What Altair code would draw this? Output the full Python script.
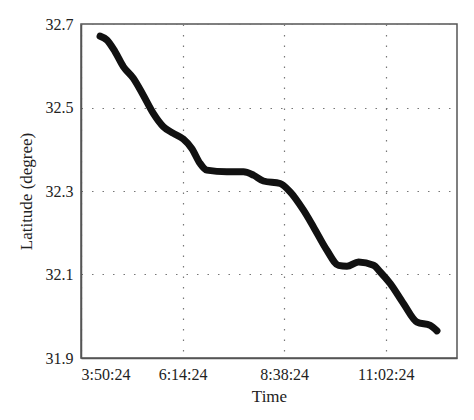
import altair as alt
import pandas as pd

# minutes after 3:50:24
minutes = [27, 36.5, 48.2, 60, 74.2, 88.1, 102.5, 116.8, 131, 145.2, 157, 168.8, 178.3,
           206.7, 230.3, 244.4, 258.6, 282.3, 296.5, 315.4, 329.6, 348.6, 365, 377,
           393.4, 414.7, 424.2, 438.4, 457.3, 476.3, 495.1, 504.6]
latitude = [32.671, 32.662, 32.634, 32.598, 32.570, 32.530, 32.486, 32.454, 32.438, 32.424,
            32.402, 32.366, 32.350, 32.346, 32.346, 32.338, 32.324, 32.318, 32.298, 32.254,
            32.214, 32.158, 32.122, 32.120, 32.130, 32.122, 32.106, 32.078, 32.030, 31.986,
            31.978, 31.965]
x_ticks = [0, 144, 288, 432]
x_labels = ["3:50:24", "6:14:24", "8:38:24", "11:02:24"]
y_ticks = [31.9, 32.1, 32.3, 32.5, 32.7]

df = pd.DataFrame({"t": minutes, "lat": latitude})

label_expr = "{" + ",".join(f"'{v}':'{l}'" for v, l in zip(x_ticks, x_labels)) + "}[datum.value]"

font = "Liberation Serif"

chart = alt.Chart(df).mark_line(
    color="#111111", strokeWidth=7, strokeCap="round", strokeJoin="round", interpolate="monotone"
).encode(
    x=alt.X("t:Q", scale=alt.Scale(domain=[0, 533], nice=False, zero=False),
            axis=alt.Axis(values=x_ticks, labelExpr=label_expr, title="Time",
                          grid=True, gridDash=[1.5, 9], gridColor="#777", gridWidth=1.2,
                          ticks=False, labelPadding=8, titlePadding=6,
                          domainColor="#555", domainWidth=1.5,
                          labelFont=font, titleFont=font, labelFontSize=16, titleFontSize=17,
                          labelColor="#222", titleColor="#222", titleFontWeight="normal")),
    y=alt.Y("lat:Q", scale=alt.Scale(domain=[31.9, 32.7], nice=False, zero=False),
            axis=alt.Axis(values=y_ticks, format=".1f", title="Latitude (degree)",
                          grid=True, gridDash=[1.5, 9], gridColor="#777", gridWidth=1.2,
                          ticks=False, labelPadding=8, titlePadding=10,
                          domainColor="#555", domainWidth=1.5,
                          labelFont=font, titleFont=font, labelFontSize=16, titleFontSize=17,
                          labelColor="#222", titleColor="#222", titleFontWeight="normal")),
).properties(
    width=376, height=334,
    padding={"left": 9, "top": 8, "right": 5, "bottom": 5},
).configure_view(stroke="#555", strokeWidth=1.5)

chart.save("out.html", embed_options={"renderer": "svg", "actions": False})
